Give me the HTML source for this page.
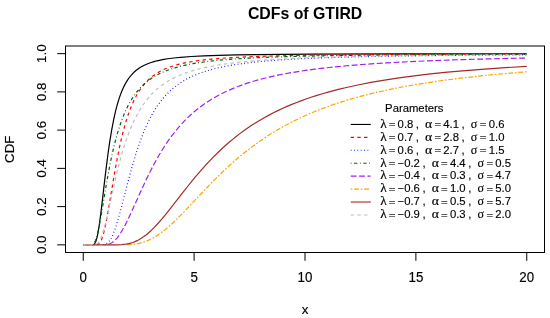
<!DOCTYPE html>
<html><head><meta charset="utf-8"><style>
html,body{margin:0;padding:0;background:#fff;}
svg{display:block;}
text{font-family:"Liberation Sans",Arial,Helvetica,sans-serif;}
text.eq{font-family:"Liberation Serif",serif;font-size:11.8px;stroke:#444;stroke-width:0.25;fill:#444;}
text.g{font-family:"Liberation Serif","DejaVu Serif",serif;font-size:12.2px;stroke-width:0.15;}
</style></head><body>
<svg width="550" height="318" viewBox="0 0 550 318">
<rect width="550" height="318" fill="#fff"/>
<text x="305.1" y="19.2" text-anchor="middle" font-weight="bold" font-size="15.85">CDFs of GTIRD</text>
<g fill="none" stroke-width="1.2" stroke-linecap="butt" stroke-linejoin="round">
<path d="M92.11,244.82 93.20,244.62 93.63,244.44 94.07,244.15 94.83,243.31 95.48,242.16 96.13,240.51 96.78,238.33 97.44,235.58 98.09,232.28 99.17,225.63 100.37,216.94 101.67,206.34 104.82,179.17 106.35,166.57 108.08,153.23 109.71,141.95 111.67,130.04 113.63,119.80 114.60,115.27 115.69,110.64 116.78,106.42 117.97,102.21 119.17,98.40 120.47,94.65 121.78,91.30 123.08,88.29 124.49,85.37 126.01,82.58 127.53,80.10 129.16,77.75 130.90,75.55 132.64,73.61 134.49,71.80 136.55,70.04 138.62,68.50 140.90,67.03 143.29,65.71 145.90,64.46 148.40,63.44 151.11,62.47 154.05,61.58 157.09,60.79 160.35,60.06 163.94,59.38 167.74,58.77 171.76,58.23 176.11,57.73 180.78,57.28 191.43,56.50 203.92,55.87 218.81,55.36 235.98,54.96 256.52,54.65 281.40,54.40 311.83,54.20 395.06,53.94 526.76,53.79" stroke="#000000"/>
<path d="M83.24,244.85 H93.22" stroke="#FF0000" stroke-dasharray="3.352,3.352"/>
<path d="M96.21,244.76 97.51,244.48 98.04,244.25 98.58,243.92 99.55,243.02 100.52,241.64 101.38,239.93 102.24,237.75 103.10,235.07 104.07,231.48 105.58,224.81 107.19,216.47 108.91,206.66 113.00,182.14 115.05,170.30 117.31,158.08 119.57,146.95 120.86,141.11 122.15,135.64 123.45,130.54 124.74,125.79 126.03,121.37 127.43,116.94 128.83,112.86 130.33,108.81 131.84,105.11 133.46,101.48 135.18,97.97 136.90,94.79 138.73,91.73 140.56,88.97 142.50,86.34 144.54,83.84 146.70,81.49 148.96,79.29 151.22,77.32 153.69,75.40 156.27,73.63 158.97,71.99 161.76,70.49 164.78,69.06 167.90,67.76 171.24,66.55 174.79,65.41 178.45,64.39 182.32,63.45 186.52,62.56 191.04,61.73 195.78,60.98 200.84,60.29 206.22,59.65 212.03,59.07 218.17,58.54 231.94,57.60 247.87,56.82 265.96,56.18 287.05,55.66 311.81,55.23 340.98,54.88 375.53,54.60 416.75,54.37 526.76,54.05" stroke="#FF0000" stroke-dasharray="3.352,3.352" stroke-dashoffset="12.97"/>
<path d="M83.24,244.85 H93.22" stroke="#0000FF" stroke-dasharray="0.838,2.514"/>
<path d="M102.42,244.76 104.33,244.48 105.18,244.24 105.92,243.93 106.67,243.53 107.41,243.02 108.15,242.38 108.79,241.72 110.17,239.92 111.44,237.77 112.82,234.92 114.20,231.53 115.26,228.59 116.43,225.06 118.87,216.83 121.31,207.79 127.25,184.69 130.22,173.50 133.40,162.22 136.37,152.51 138.07,147.33 139.87,142.14 141.67,137.26 143.48,132.67 145.28,128.37 147.19,124.12 149.10,120.15 151.01,116.46 153.03,112.84 155.15,109.31 157.27,106.05 159.50,102.89 161.83,99.85 164.16,97.06 166.60,94.38 169.04,91.92 171.70,89.48 174.35,87.25 177.11,85.13 180.08,83.05 183.05,81.17 186.23,79.34 189.52,77.62 193.02,75.97 196.84,74.35 200.76,72.87 204.90,71.46 209.25,70.14 213.81,68.91 218.69,67.73 223.78,66.64 229.09,65.64 234.71,64.70 240.65,63.82 246.91,63.00 253.59,62.23 260.59,61.52 268.02,60.86 275.98,60.24 284.36,59.68 302.50,58.67 323.08,57.81 346.42,57.08 373.15,56.46 403.70,55.94 438.82,55.50 479.45,55.13 526.76,54.83" stroke="#0000FF" stroke-dasharray="0.838,2.514" stroke-dashoffset="19.18"/>
<path d="M83.24,244.85 91.00,244.83 92.00,244.72 92.78,244.45 93.33,244.10 93.77,243.68 94.22,243.13 94.66,242.42 95.55,240.52 96.32,238.29 96.99,235.98 97.77,232.85 99.43,224.82 101.09,215.55 105.53,189.05 107.86,175.80 110.52,161.99 113.07,150.24 114.51,144.24 116.06,138.27 117.61,132.78 119.17,127.72 120.83,122.76 122.49,118.23 124.27,113.83 126.04,109.82 127.70,106.38 129.48,103.03 131.36,99.79 133.25,96.83 135.24,93.99 137.24,91.40 139.46,88.80 141.67,86.44 144.00,84.21 146.44,82.10 148.88,80.19 151.54,78.31 154.31,76.55 157.20,74.92 160.30,73.34 163.52,71.87 167.07,70.44 170.84,69.09 174.83,67.83 178.93,66.68 183.37,65.60 188.02,64.59 193.01,63.65 198.22,62.79 203.77,61.98 209.64,61.24 215.96,60.55 222.62,59.92 229.71,59.34 237.36,58.79 254.22,57.84 273.07,57.06 294.80,56.40 319.97,55.85 349.13,55.39 383.06,55.02 423.09,54.72 470.32,54.47 526.76,54.28" stroke="#006400" stroke-dasharray="0.838,2.514,3.352,2.514"/>
<path d="M83.24,244.85 H93.22" stroke="#A020F0" stroke-dasharray="5.866,2.514"/>
<path d="M104.64,244.76 107.17,244.46 108.23,244.23 109.28,243.91 110.34,243.49 111.29,243.01 112.24,242.44 113.19,241.77 115.09,240.11 116.99,238.04 118.99,235.42 121.00,232.40 122.58,229.75 124.27,226.71 125.96,223.47 127.86,219.64 131.66,211.54 140.63,191.64 144.95,182.29 149.70,172.51 154.24,163.76 156.88,158.97 159.41,154.56 162.05,150.19 164.69,146.03 167.33,142.08 169.96,138.32 172.71,134.62 175.45,131.12 178.19,127.81 181.04,124.56 184.00,121.38 186.95,118.39 190.01,115.48 193.18,112.64 196.35,109.98 199.62,107.40 202.99,104.90 206.37,102.56 209.96,100.24 213.55,98.06 217.24,95.97 221.15,93.91 225.05,91.98 229.17,90.10 233.81,88.12 238.66,86.21 243.73,84.38 248.90,82.66 254.28,81.02 259.87,79.45 265.57,77.98 271.59,76.55 277.81,75.21 284.36,73.91 291.11,72.69 298.08,71.54 305.36,70.45 312.96,69.41 320.87,68.42 329.21,67.48 337.76,66.60 346.73,65.76 365.83,64.23 386.72,62.86 409.62,61.64 434.74,60.56 462.39,59.61 492.88,58.77 526.76,58.03" stroke="#A020F0" stroke-dasharray="5.866,2.514" stroke-dashoffset="21.40"/>
<path d="M83.24,244.85 H93.22" stroke="#FFA500" stroke-dasharray="1.676,1.676,5.028,1.676"/>
<path d="M126.04,244.76 131.25,244.48 133.55,244.25 135.76,243.95 137.86,243.58 139.97,243.12 141.97,242.59 143.97,241.98 146.08,241.23 148.08,240.41 150.08,239.50 152.09,238.50 154.09,237.39 156.19,236.13 160.30,233.38 164.31,230.35 168.42,226.93 172.82,222.97 177.63,218.34 181.64,214.32 186.15,209.65 202.28,192.50 209.09,185.37 215.80,178.55 222.21,172.27 227.82,166.99 233.33,162.02 238.84,157.27 244.35,152.74 251.87,146.90 259.48,141.39 267.19,136.20 271.10,133.71 275.11,131.26 279.11,128.90 283.22,126.58 291.54,122.15 300.05,117.98 308.87,114.00 313.68,111.98 318.59,110.00 323.59,108.08 328.60,106.24 333.81,104.42 339.02,102.69 344.43,100.98 349.94,99.32 361.26,96.15 373.08,93.17 385.41,90.37 398.33,87.72 411.75,85.26 425.88,82.93 440.70,80.75 456.23,78.70 472.56,76.79 489.69,75.00 507.73,73.33 526.76,71.76" stroke="#FFA500" stroke-dasharray="1.676,1.676,5.028,1.676" stroke-dashoffset="42.80"/>
<path d="M92.11,244.85 116.99,244.80 121.88,244.58 125.91,244.12 128.30,243.68 130.58,243.12 132.75,242.45 134.92,241.63 137.10,240.66 139.27,239.52 141.34,238.30 143.51,236.85 146.99,234.20 150.57,231.06 154.27,227.44 158.18,223.24 161.98,218.87 166.33,213.59 171.11,207.57 182.52,192.89 187.95,186.00 193.93,178.64 199.47,172.08 205.88,164.86 212.29,158.07 218.70,151.70 225.11,145.77 228.81,142.54 232.61,139.35 236.41,136.30 240.22,133.39 244.13,130.52 248.04,127.79 252.06,125.11 256.19,122.48 260.43,119.92 264.67,117.48 269.01,115.10 273.36,112.84 277.81,110.64 282.38,108.50 287.05,106.42 291.83,104.40 296.72,102.45 301.61,100.60 306.61,98.81 311.83,97.04 317.04,95.37 322.47,93.72 328.02,92.14 333.67,90.61 339.43,89.14 345.40,87.71 357.79,84.98 370.83,82.44 384.52,80.08 398.97,77.89 414.19,75.85 430.38,73.95 447.44,72.19 465.47,70.57 484.71,69.05 505.14,67.66 526.76,66.37" stroke="#A52A2A"/>
<path d="M83.24,244.85 92.89,244.82 94.55,244.65 95.88,244.27 96.66,243.89 97.32,243.43 97.99,242.83 98.65,242.06 99.32,241.11 99.87,240.17 101.09,237.61 102.09,235.01 103.20,231.61 104.31,227.75 105.42,223.48 107.63,214.08 113.29,188.34 116.17,175.80 119.39,162.95 120.94,157.23 122.60,151.45 124.38,145.69 126.26,140.00 128.15,134.74 130.03,129.87 132.03,125.12 134.02,120.75 136.13,116.52 138.24,112.64 140.12,109.43 142.12,106.30 144.22,103.25 146.33,100.44 148.55,97.72 150.88,95.09 153.21,92.69 155.65,90.37 158.20,88.16 160.86,86.05 163.63,84.04 166.51,82.14 169.51,80.34 172.61,78.65 175.83,77.06 179.15,75.56 183.03,73.98 187.13,72.49 191.46,71.08 196.01,69.77 200.77,68.54 205.76,67.40 210.97,66.34 216.52,65.34 222.39,64.40 228.49,63.54 235.03,62.72 241.91,61.97 249.23,61.27 256.99,60.62 273.95,59.45 292.80,58.47 314.20,57.62 338.49,56.91 366.21,56.31 397.92,55.80 434.62,55.38 477.20,55.02 526.76,54.73" stroke="#BEBEBE" stroke-dasharray="3.352,3.352"/>
</g>
<rect x="65.5" y="46.0" width="479.0" height="206.5" fill="none" stroke="#000" stroke-width="1"/>
<g stroke="#000" stroke-width="1" stroke-linecap="butt">
<line x1="83.24" x2="83.24" y1="252.50" y2="260.80"/>
<line x1="194.12" x2="194.12" y1="252.50" y2="260.80"/>
<line x1="305.00" x2="305.00" y1="252.50" y2="260.80"/>
<line x1="415.88" x2="415.88" y1="252.50" y2="260.80"/>
<line x1="526.76" x2="526.76" y1="252.50" y2="260.80"/>
<line x1="83.24" x2="526.76" y1="252.50" y2="252.50"/>
<line x1="57.20" x2="65.50" y1="244.85" y2="244.85"/>
<line x1="57.20" x2="65.50" y1="206.61" y2="206.61"/>
<line x1="57.20" x2="65.50" y1="168.37" y2="168.37"/>
<line x1="57.20" x2="65.50" y1="130.13" y2="130.13"/>
<line x1="57.20" x2="65.50" y1="91.89" y2="91.89"/>
<line x1="57.20" x2="65.50" y1="53.65" y2="53.65"/>
<line x1="65.50" x2="65.50" y1="244.85" y2="53.65"/>
</g>
<g font-size="13.33" fill="#000" stroke="#000" stroke-width="0.14">
<text transform="translate(83.24,282.1) scale(1,1.07)" text-anchor="middle">0</text>
<text transform="translate(194.12,282.1) scale(1,1.07)" text-anchor="middle">5</text>
<text transform="translate(305.00,282.1) scale(1,1.07)" text-anchor="middle">10</text>
<text transform="translate(415.88,282.1) scale(1,1.07)" text-anchor="middle">15</text>
<text transform="translate(526.76,282.1) scale(1,1.07)" text-anchor="middle">20</text>
<text transform="translate(45.8,244.85) rotate(-90)" text-anchor="middle">0.0</text>
<text transform="translate(45.8,206.61) rotate(-90)" text-anchor="middle">0.2</text>
<text transform="translate(45.8,168.37) rotate(-90)" text-anchor="middle">0.4</text>
<text transform="translate(45.8,130.13) rotate(-90)" text-anchor="middle">0.6</text>
<text transform="translate(45.8,91.89) rotate(-90)" text-anchor="middle">0.8</text>
<text transform="translate(45.8,53.65) rotate(-90)" text-anchor="middle">1.0</text>
<text x="305" y="314" text-anchor="middle">x</text>
<text transform="translate(13.8,149.2) rotate(-90)" text-anchor="middle">CDF</text>
</g>
<g fill="none" stroke-width="1.1" stroke-linecap="butt">
<line x1="350.7" x2="370.8" y1="124.45" y2="124.45" stroke="#000000"/>
<line x1="350.7" x2="370.5" y1="137.38" y2="137.38" stroke="#FF0000" stroke-dasharray="3.352,3.352"/>
<line x1="350.7" x2="370.5" y1="150.31" y2="150.31" stroke="#0000FF" stroke-dasharray="0.838,2.514"/>
<line x1="350.7" x2="370.5" y1="163.24" y2="163.24" stroke="#006400" stroke-dasharray="0.838,2.514,3.352,2.514"/>
<line x1="350.7" x2="370.5" y1="176.17" y2="176.17" stroke="#A020F0" stroke-dasharray="5.866,2.514"/>
<line x1="350.7" x2="370.5" y1="189.10" y2="189.10" stroke="#FFA500" stroke-dasharray="1.676,1.676,5.028,1.676"/>
<line x1="350.7" x2="370.8" y1="202.03" y2="202.03" stroke="#A52A2A"/>
<line x1="350.7" x2="370.5" y1="214.96" y2="214.96" stroke="#BEBEBE" stroke-dasharray="3.352,3.352"/>
</g>
<g font-size="11.3" fill="#000" stroke="#000" stroke-width="0.14">
<text x="414.3" y="111.6" text-anchor="middle">Parameters</text>
<text class="g" transform="translate(380.30,127.75) scale(1.10,1)">λ</text>
<text class="eq" x="388.70" y="129.05">=</text>
<text x="397.60" y="127.75">0.8</text>
<text x="415.81" y="127.75">,</text>
<text class="g" transform="translate(425.10,127.75) scale(1.12,1)">α</text>
<text class="eq" x="434.43" y="129.05">=</text>
<text x="443.33" y="127.75">4.1</text>
<text x="461.54" y="127.75">,</text>
<text class="g" x="470.83" y="127.75">σ</text>
<text class="eq" x="479.84" y="129.05">=</text>
<text x="488.74" y="127.75">0.6</text>
<text class="g" transform="translate(380.30,140.68) scale(1.10,1)">λ</text>
<text class="eq" x="388.70" y="141.98">=</text>
<text x="397.60" y="140.68">0.7</text>
<text x="415.81" y="140.68">,</text>
<text class="g" transform="translate(425.10,140.68) scale(1.12,1)">α</text>
<text class="eq" x="434.43" y="141.98">=</text>
<text x="443.33" y="140.68">2.8</text>
<text x="461.54" y="140.68">,</text>
<text class="g" x="470.83" y="140.68">σ</text>
<text class="eq" x="479.84" y="141.98">=</text>
<text x="488.74" y="140.68">1.0</text>
<text class="g" transform="translate(380.30,153.61) scale(1.10,1)">λ</text>
<text class="eq" x="388.70" y="154.91">=</text>
<text x="397.60" y="153.61">0.6</text>
<text x="415.81" y="153.61">,</text>
<text class="g" transform="translate(425.10,153.61) scale(1.12,1)">α</text>
<text class="eq" x="434.43" y="154.91">=</text>
<text x="443.33" y="153.61">2.7</text>
<text x="461.54" y="153.61">,</text>
<text class="g" x="470.83" y="153.61">σ</text>
<text class="eq" x="479.84" y="154.91">=</text>
<text x="488.74" y="153.61">1.5</text>
<text class="g" transform="translate(380.30,166.54) scale(1.10,1)">λ</text>
<text class="eq" x="388.70" y="167.84">=</text>
<text x="397.60" y="166.54">−0.2</text>
<text x="422.41" y="166.54">,</text>
<text class="g" transform="translate(431.70,166.54) scale(1.12,1)">α</text>
<text class="eq" x="441.03" y="167.84">=</text>
<text x="449.93" y="166.54">4.4</text>
<text x="468.14" y="166.54">,</text>
<text class="g" x="477.43" y="166.54">σ</text>
<text class="eq" x="486.44" y="167.84">=</text>
<text x="495.34" y="166.54">0.5</text>
<text class="g" transform="translate(380.30,179.47) scale(1.10,1)">λ</text>
<text class="eq" x="388.70" y="180.77">=</text>
<text x="397.60" y="179.47">−0.4</text>
<text x="422.41" y="179.47">,</text>
<text class="g" transform="translate(431.70,179.47) scale(1.12,1)">α</text>
<text class="eq" x="441.03" y="180.77">=</text>
<text x="449.93" y="179.47">0.3</text>
<text x="468.14" y="179.47">,</text>
<text class="g" x="477.43" y="179.47">σ</text>
<text class="eq" x="486.44" y="180.77">=</text>
<text x="495.34" y="179.47">4.7</text>
<text class="g" transform="translate(380.30,192.40) scale(1.10,1)">λ</text>
<text class="eq" x="388.70" y="193.70">=</text>
<text x="397.60" y="192.40">−0.6</text>
<text x="422.41" y="192.40">,</text>
<text class="g" transform="translate(431.70,192.40) scale(1.12,1)">α</text>
<text class="eq" x="441.03" y="193.70">=</text>
<text x="449.93" y="192.40">1.0</text>
<text x="468.14" y="192.40">,</text>
<text class="g" x="477.43" y="192.40">σ</text>
<text class="eq" x="486.44" y="193.70">=</text>
<text x="495.34" y="192.40">5.0</text>
<text class="g" transform="translate(380.30,205.33) scale(1.10,1)">λ</text>
<text class="eq" x="388.70" y="206.63">=</text>
<text x="397.60" y="205.33">−0.7</text>
<text x="422.41" y="205.33">,</text>
<text class="g" transform="translate(431.70,205.33) scale(1.12,1)">α</text>
<text class="eq" x="441.03" y="206.63">=</text>
<text x="449.93" y="205.33">0.5</text>
<text x="468.14" y="205.33">,</text>
<text class="g" x="477.43" y="205.33">σ</text>
<text class="eq" x="486.44" y="206.63">=</text>
<text x="495.34" y="205.33">5.7</text>
<text class="g" transform="translate(380.30,218.26) scale(1.10,1)">λ</text>
<text class="eq" x="388.70" y="219.56">=</text>
<text x="397.60" y="218.26">−0.9</text>
<text x="422.41" y="218.26">,</text>
<text class="g" transform="translate(431.70,218.26) scale(1.12,1)">α</text>
<text class="eq" x="441.03" y="219.56">=</text>
<text x="449.93" y="218.26">0.3</text>
<text x="468.14" y="218.26">,</text>
<text class="g" x="477.43" y="218.26">σ</text>
<text class="eq" x="486.44" y="219.56">=</text>
<text x="495.34" y="218.26">2.0</text>
</g>
</svg>
</body></html>
